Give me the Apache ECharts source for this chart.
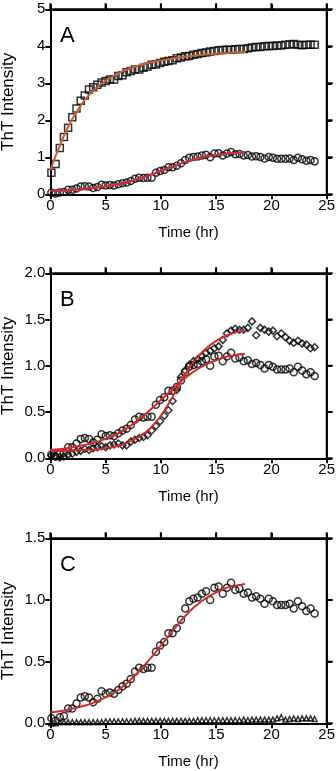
<!DOCTYPE html>
<html><head><meta charset="utf-8">
<script src="https://cdn.jsdelivr.net/npm/echarts@6/dist/echarts.min.js"></script>
<style>html,body{margin:0;padding:0;background:#fff;overflow:hidden}#c{width:336px;height:771px}</style>
</head><body><div id="c"></div>
<script>
const time = [0.10,0.48,0.86,1.23,1.61,1.99,2.37,2.75,3.12,3.50,
3.88,4.26,4.64,5.01,5.39,5.77,6.15,6.53,6.90,7.28,
7.66,8.04,8.42,8.79,9.17,9.55,9.93,10.31,10.68,11.06,
11.44,11.82,12.20,12.57,12.95,13.33,13.71,14.09,14.46,14.84,
15.22,15.60,15.98,16.35,16.73,17.11,17.49,17.87,18.24,18.62,
19.00,19.38,19.76,20.13,20.51,20.89,21.27,21.65,22.02,22.40,
22.78,23.16,23.54,23.91];
const squares = [0.58,0.82,1.25,1.55,1.80,2.08,2.32,2.53,2.67,2.83,
2.89,2.96,3.02,3.06,3.10,3.10,3.20,3.22,3.30,3.33,
3.37,3.37,3.42,3.45,3.50,3.51,3.55,3.58,3.60,3.62,
3.68,3.70,3.73,3.74,3.77,3.79,3.82,3.83,3.86,3.87,
3.89,3.90,3.91,3.91,3.92,3.93,3.93,3.95,3.97,3.98,
3.98,4.00,4.01,4.01,4.02,4.02,4.04,4.05,4.06,4.04,
4.03,4.04,4.04,4.04];
const circles = [0.04,0.02,0.05,0.06,0.12,0.12,0.16,0.21,0.22,0.21,
0.17,0.20,0.26,0.24,0.25,0.24,0.27,0.30,0.32,0.36,
0.42,0.45,0.44,0.45,0.45,0.58,0.63,0.66,0.73,0.73,
0.77,0.84,0.93,0.99,1.01,1.02,1.05,1.07,1.00,1.10,
1.11,1.05,1.10,1.14,1.08,1.09,1.05,1.06,1.02,1.03,
1.01,0.97,1.01,0.99,0.96,0.96,0.96,0.97,0.93,0.99,
0.95,0.91,0.93,0.89];
const diamonds = [0.03,0.02,0.01,0.02,0.04,0.05,0.07,0.08,0.10,0.09,
0.11,0.12,0.13,0.12,0.14,0.15,0.16,0.14,0.14,0.18,
0.20,0.22,0.23,0.25,0.30,0.35,0.40,0.46,0.52,0.62,
0.74,0.88,0.95,1.01,1.05,1.07,1.10,1.14,1.16,1.19,
1.21,1.28,1.35,1.38,1.40,1.39,1.39,1.41,1.48,1.33,
1.41,1.39,1.37,1.38,1.32,1.35,1.31,1.27,1.25,1.27,
1.24,1.23,1.19,1.20];
const triangles = [0.00,0.00,0.01,0.01,0.01,0.01,0.01,0.01,0.01,0.01,
0.01,0.01,0.01,0.015,0.015,0.015,0.015,0.015,0.015,0.015,
0.02,0.02,0.02,0.02,0.02,0.02,0.02,0.02,0.02,0.02,
0.02,0.02,0.02,0.02,0.02,0.025,0.025,0.025,0.025,0.025,
0.025,0.025,0.025,0.025,0.025,0.025,0.03,0.025,0.03,0.03,
0.03,0.03,0.03,0.03,0.04,0.05,0.03,0.035,0.04,0.035,
0.04,0.04,0.04,0.035];
const squareFitTime = [0,0.5,1,1.5,2,2.5,3,3.5,4,5,6,7,8,9,10,11,12,13,14,15,16,17,17.7];
const squareFit = [0.65,1.05,1.42,1.75,2.04,2.29,2.5,2.68,2.83,3.07,3.25,3.38,3.48,3.56,3.62,3.67,3.71,3.75,3.78,3.80,3.82,3.84,3.85];
const fitTime = [0,1,2,3,4,5,6,7,8,9,10,11,12,13,14,15,16,17,17.6];
const circleFit = [0.09,0.10,0.12,0.14,0.17,0.21,0.26,0.33,0.42,0.52,0.63,0.74,0.85,0.94,1.01,1.06,1.10,1.12,1.13];
const diamondFit = [0.08,0.08,0.085,0.09,0.095,0.11,0.13,0.17,0.23,0.32,0.46,0.65,0.87,1.05,1.18,1.27,1.33,1.37,1.38];
const panelLetters = ['A','B','C'];
const xTicks = [0, 5, 10, 15, 20, 25];
const yTicks = [[0, 1, 2, 3, 4, 5], [0, 0.5, 1, 1.5, 2], [0, 0.5, 1, 1.5]];
const xMax = 25;
const yMax = [5, 2, 1.5];
const yStep = [1, 0.5, 0.5];
const yDecimals = [0, 1, 1];
const xLabel = 'Time (hr)';
const yLabel = 'ThT Intensity';

const FONT = '"Liberation Sans", Arial, sans-serif';
const GRID_LEFT = 50.3, GRID_W = 276.4, GRID_H = 185;
const gridTops = [9.3, 273.3, 538.3];
const pair = (xs, ys) => xs.map((x, i) => [x, ys[i]]);
const mkLine = () => ({show: true, onZero: false, lineStyle: {color: '#000', width: 2}});
const mkTick = () => ({show: true, inside: false, length: 5, lineStyle: {color: '#000', width: 2}});

const grid = [], xAxis = [], yAxis = [], series = [];
gridTops.forEach((gTop, g) => {
  grid.push({left: GRID_LEFT, top: gTop, width: GRID_W, height: GRID_H, containLabel: false, outerBoundsMode: 'none'});
  xAxis.push({show: true, type: 'value', gridIndex: g, position: 'bottom', min: 0, max: xMax, interval: 5,
    axisLine: mkLine(), axisTick: mkTick(), splitLine: {show: false},
    axisLabel: {color: '#000', fontSize: 15, fontFamily: FONT, margin: 4},
    name: xLabel, nameLocation: 'middle', nameGap: 31, nameMoveOverlap: false,
    nameTextStyle: {color: '#000', fontSize: 15, fontFamily: FONT}});
  xAxis.push({show: true, type: 'value', gridIndex: g, position: 'top', min: 0, max: xMax, interval: 5,
    axisLine: mkLine(), axisTick: mkTick(), splitLine: {show: false}, axisLabel: {show: false}});
  yAxis.push({show: true, type: 'value', gridIndex: g, position: 'left', min: 0, max: yMax[g], interval: yStep[g],
    axisLine: mkLine(), axisTick: mkTick(), splitLine: {show: false},
    axisLabel: {color: '#000', fontSize: 15, fontFamily: FONT, margin: 5,
      formatter: v => v.toFixed(yDecimals[g])},
    name: yLabel, nameLocation: 'middle', nameGap: 33, nameRotate: 90, nameMoveOverlap: false,
    nameTextStyle: {color: '#000', fontSize: 17, fontFamily: FONT}});
  yAxis.push({show: true, type: 'value', gridIndex: g, position: 'right', min: 0, max: yMax[g], interval: yStep[g],
    axisLine: mkLine(), axisTick: mkTick(), splitLine: {show: false}, axisLabel: {show: false}});
});

const scatter = (g, data, symbol, size) => ({
  type: 'scatter', xAxisIndex: 2 * g, yAxisIndex: 2 * g, data, symbol, symbolSize: size,
  itemStyle: {color: 'rgba(255,255,255,0)', borderColor: '#000', borderWidth: 1.5}, z: 2, silent: true});
const fit = (g, data, color) => ({
  type: 'line', xAxisIndex: 2 * g, yAxisIndex: 2 * g, data, smooth: 0.4, showSymbol: false,
  lineStyle: {color, width: 2}, z: 3, silent: true});

const RED = '#d32a2a', ORANGE = '#c8612e';
series.push(scatter(0, pair(time, squares), 'rect', 7));
series.push(scatter(0, pair(time, circles), 'circle', 7));
series.push(fit(0, pair(squareFitTime, squareFit), ORANGE));
series.push(fit(0, pair(fitTime, circleFit), RED));
series.push(scatter(1, pair(time, circles), 'circle', 7));
series.push(scatter(1, pair(time, diamonds), 'diamond', 7));
series.push(fit(1, pair(fitTime, circleFit), RED));
series.push(fit(1, pair(fitTime, diamondFit), RED));
series.push(scatter(2, pair(time, circles), 'circle', 7));
series.push(scatter(2, pair(time, triangles), 'triangle', 5));
series.push(fit(2, pair(fitTime, circleFit), RED));

const chart = echarts.init(document.getElementById('c'), null, {renderer: 'canvas'});
chart.setOption({animation: false, grid, xAxis, yAxis, series});

// Frame (top and right edges) as filled bars from the grid layout, ticks placed through the axis scales
const elements = [];
const bar = (x, y, w, h) => ({type: 'rect', silent: true, z: 100,
  shape: {x, y, width: w, height: h}, style: {fill: '#000'}});
gridTops.forEach((gTop, g) => {
  const right = GRID_LEFT + GRID_W, bottom = gTop + GRID_H;
  elements.push(bar(GRID_LEFT - 1, gTop - 1, GRID_W + 2, 2));
  elements.push(bar(right - 1, gTop - 1, 2, GRID_H + 2));
  try {
    xTicks.forEach(v => {
      const px = chart.convertToPixel({xAxisIndex: 2 * g}, v);
      if (isFinite(px)) elements.push(bar(px - 1, gTop - 6, 2, 5));
    });
    yTicks[g].forEach(v => {
      const py = chart.convertToPixel({yAxisIndex: 2 * g}, v);
      if (isFinite(py)) elements.push(bar(right + 1, py - 1, 5, 2));
    });
  } catch (e) {}
  elements.push({type: 'text', left: 60, top: gTop + 16, silent: true, z: 100,
    style: {text: panelLetters[g], font: '22px ' + FONT, fill: '#000'}});
});
chart.setOption({graphic: {elements}});
</script>
</body></html>
